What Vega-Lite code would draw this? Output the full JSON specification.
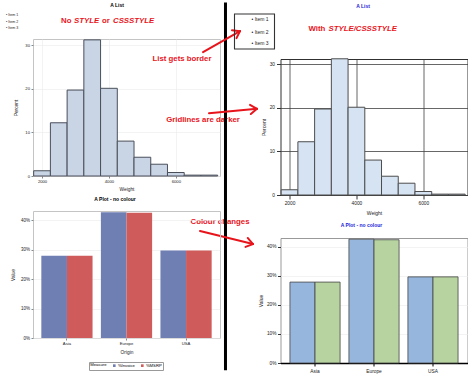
{
  "$schema": "https://vega.github.io/schema/vega-lite/v6.json",
  "padding": {"left": 6, "top": 0, "right": 0, "bottom": 0},
  "background": "white",
  "datasets": {
    "hist": [
      {"start": 1750, "end": 2250, "pct": 1.2},
      {"start": 2250, "end": 2750, "pct": 12.2},
      {"start": 2750, "end": 3250, "pct": 19.7},
      {"start": 3250, "end": 3750, "pct": 31.2},
      {"start": 3750, "end": 4250, "pct": 20.1},
      {"start": 4250, "end": 4750, "pct": 8.0},
      {"start": 4750, "end": 5250, "pct": 4.3},
      {"start": 5250, "end": 5750, "pct": 2.7},
      {"start": 5750, "end": 6250, "pct": 0.8},
      {"start": 6250, "end": 6750, "pct": 0.2},
      {"start": 6750, "end": 7250, "pct": 0.2}
    ],
    "bars": [
      {"Origin": "Asia", "Measure": "%Invoice", "Value": 0.279},
      {"Origin": "Asia", "Measure": "%MSRP", "Value": 0.279},
      {"Origin": "Europe", "Measure": "%Invoice", "Value": 0.427},
      {"Origin": "Europe", "Measure": "%MSRP", "Value": 0.425},
      {"Origin": "USA", "Measure": "%Invoice", "Value": 0.297},
      {"Origin": "USA", "Measure": "%MSRP", "Value": 0.297}
    ]
  },
  "config": {
    "font": "Liberation Sans",
    "view": {"stroke": null},
    "text": {"baseline": "middle", "font": "Liberation Sans"},
    "title": {"font": "Liberation Sans"},
    "axis": {
      "labelColor": "#222", "titleColor": "#222", "titleFontWeight": "normal",
      "domain": false, "tickColor": "#888", "labelFontSize": 4.2, "titleFontSize": 4.8,
      "tickSize": 2, "labelPadding": 1.5, "gridColor": "#ebebeb", "gridWidth": 0.6,
      "labelFont": "Liberation Sans", "titleFont": "Liberation Sans"
    },
    "axisX": {"labelAngle": 0},
    "legend": {"labelFont": "Liberation Sans", "titleFont": "Liberation Sans"}
  },
  "resolve": {"scale": {"color": "independent", "xOffset": "independent"}, "legend": {"color": "independent"}},
  "align": "each",
  "spacing": -25.5,
  "hconcat": [
    {
      "resolve": {"scale": {"color": "independent", "xOffset": "independent"}, "legend": {"color": "independent"}},
      "bounds": "flush",
      "align": "each",
      "spacing": 0,
      "vconcat": [
        {
          "width": 187, "height": 38,
          "data": {"values": [{}]},
          "layer": [
            {"mark": {"type": "text", "text": "A List", "fontSize": 5, "fontWeight": "bold", "color": "#000"},
             "encoding": {"x": {"datum": 84, "type": "quantitative", "scale": {"domain": [0, 187], "nice": false, "zero": false}, "axis": null},
                          "y": {"datum": 3.5, "type": "quantitative", "scale": {"domain": [0, 38], "nice": false, "zero": false, "reverse": true}, "axis": null}}},
            {"mark": {"type": "text", "text": "• Item 1", "fontSize": 3.6, "align": "left", "color": "#222"},
             "encoding": {"x": {"datum": -27, "axis": null}, "y": {"datum": 14, "axis": null}}},
            {"mark": {"type": "text", "text": "• Item 2", "fontSize": 3.6, "align": "left", "color": "#222"},
             "encoding": {"x": {"datum": -27, "axis": null}, "y": {"datum": 20.5, "axis": null}}},
            {"mark": {"type": "text", "text": "• Item 3", "fontSize": 3.6, "align": "left", "color": "#222"},
             "encoding": {"x": {"datum": -27, "axis": null}, "y": {"datum": 27, "axis": null}}},
            {"mark": {"type": "text", "text": "No", "fontSize": 7.8, "fontWeight": "bold", "align": "left", "color": "#e8141c"},
             "encoding": {"x": {"datum": 28, "axis": null}, "y": {"datum": 20, "axis": null}}},
            {"mark": {"type": "text", "text": "STYLE", "fontSize": 7.8, "fontWeight": "bold", "fontStyle": "italic", "align": "left", "color": "#e8141c"},
             "encoding": {"x": {"datum": 41, "axis": null}, "y": {"datum": 20, "axis": null}}},
            {"mark": {"type": "text", "text": "or", "fontSize": 7.8, "fontWeight": "bold", "align": "left", "color": "#e8141c"},
             "encoding": {"x": {"datum": 69, "axis": null}, "y": {"datum": 20, "axis": null}}},
            {"mark": {"type": "text", "text": "CSSSTYLE", "fontSize": 7.8, "fontWeight": "bold", "fontStyle": "italic", "align": "left", "color": "#e8141c"},
             "encoding": {"x": {"datum": 80, "axis": null}, "y": {"datum": 20, "axis": null}}}
          ]
        },
        {
          "width": 187, "height": 137,
          "view": {"stroke": "#c4c4c4"},
          "data": {"values": [{}]},
          "layer": [
            {
              "data": {"name": "hist"},
              "mark": {"type": "bar", "fill": "#c9d4e5", "stroke": "#4a4f5a", "strokeWidth": 1},
              "encoding": {
                "x": {"field": "start", "type": "quantitative", "scale": {"domain": [1730, 7320], "nice": false, "zero": false},
                      "axis": {"values": [2000, 4000, 6000], "format": "d", "grid": true, "title": "Weight", "titlePadding": 3}},
                "x2": {"field": "end"},
                "y": {"field": "pct", "type": "quantitative", "scale": {"domain": [0, 31.4], "nice": false},
                      "axis": {"values": [0, 10, 20, 30], "grid": true, "title": "Percent", "titlePadding": 6}},
                "y2": {"datum": 0}
              }
            },
            {"mark": {"type": "text", "text": "List gets border", "fontSize": 7.8, "fontWeight": "bold", "color": "#e8141c"},
             "encoding": {"x": {"datum": 6184}, "y": {"datum": 26.8}}},
            {"mark": {"type": "text", "text": "Gridlines are darker", "fontSize": 7.8, "fontWeight": "bold", "color": "#e8141c"},
             "encoding": {"x": {"datum": 6812}, "y": {"datum": 12.8}}},
            {"mark": {"type": "text", "text": "Colour changes", "fontSize": 7.8, "fontWeight": "bold", "color": "#e8141c"},
             "encoding": {"x": {"datum": 7320}, "y": {"datum": -10.5}}},
            {"mark": {"type": "rule", "color": "#000", "strokeWidth": 3},
             "encoding": {"x": {"datum": 7484}, "y": {"datum": 39.77}, "y2": {"datum": -44.5}}},
            {"mark": {"type": "rule", "color": "#e8141c", "strokeWidth": 2, "strokeCap": "round"},
             "encoding": {"x": {"datum": 6812}, "y": {"datum": 28.4}, "x2": {"datum": 7918}, "y2": {"datum": 33.2}}},
            {"mark": {"type": "rule", "color": "#e8141c", "strokeWidth": 2, "strokeCap": "round"},
             "encoding": {"x": {"datum": 7918}, "y": {"datum": 33.2}, "x2": {"datum": 7679}, "y2": {"datum": 33.4}}},
            {"mark": {"type": "rule", "color": "#e8141c", "strokeWidth": 2, "strokeCap": "round"},
             "encoding": {"x": {"datum": 7918}, "y": {"datum": 33.2}, "x2": {"datum": 7813}, "y2": {"datum": 31.6}}},
            {"mark": {"type": "rule", "color": "#e8141c", "strokeWidth": 2, "strokeCap": "round"},
             "encoding": {"x": {"datum": 6991}, "y": {"datum": 14.4}, "x2": {"datum": 8426}, "y2": {"datum": 15.4}}},
            {"mark": {"type": "rule", "color": "#e8141c", "strokeWidth": 2, "strokeCap": "round"},
             "encoding": {"x": {"datum": 8426}, "y": {"datum": 15.4}, "x2": {"datum": 8217}, "y2": {"datum": 16.3}}},
            {"mark": {"type": "rule", "color": "#e8141c", "strokeWidth": 2, "strokeCap": "round"},
             "encoding": {"x": {"datum": 8426}, "y": {"datum": 15.4}, "x2": {"datum": 8241}, "y2": {"datum": 14.2}}},
            {"mark": {"type": "rule", "color": "#e8141c", "strokeWidth": 2, "strokeCap": "round"},
             "encoding": {"x": {"datum": 6722}, "y": {"datum": -12.6}, "x2": {"datum": 8306}, "y2": {"datum": -15.6}}},
            {"mark": {"type": "rule", "color": "#e8141c", "strokeWidth": 2, "strokeCap": "round"},
             "encoding": {"x": {"datum": 8306}, "y": {"datum": -15.6}, "x2": {"datum": 8148}, "y2": {"datum": -14.2}}},
            {"mark": {"type": "rule", "color": "#e8141c", "strokeWidth": 2, "strokeCap": "round"},
             "encoding": {"x": {"datum": 8306}, "y": {"datum": -15.6}, "x2": {"datum": 8082}, "y2": {"datum": -16.25}}}
          ]
        },
        {
          "width": 187, "height": 35,
          "data": {"values": [{}]},
          "mark": {"type": "text", "text": "A Plot - no colour", "fontSize": 5, "fontWeight": "bold", "color": "#000"},
          "encoding": {
            "x": {"datum": 82, "type": "quantitative", "scale": {"domain": [0, 187], "nice": false, "zero": false}, "axis": null},
            "y": {"datum": 23, "type": "quantitative", "scale": {"domain": [0, 35], "nice": false, "zero": false, "reverse": true}, "axis": null}
          }
        },
        {
          "width": 187, "height": 127,
          "view": {"stroke": "#c4c4c4"},
          "data": {"name": "bars"},
          "mark": {"type": "bar"},
          "encoding": {
            "x": {"field": "Origin", "type": "nominal", "scale": {"paddingInner": 0.14, "paddingOuter": 0.14},
                  "axis": {"title": "Origin", "titlePadding": 3.4}},
            "xOffset": {"field": "Measure", "type": "nominal", "sort": ["%Invoice", "%MSRP"]},
            "y": {"field": "Value", "type": "quantitative", "scale": {"domain": [0, 0.431], "nice": false},
                  "axis": {"values": [0, 0.1, 0.2, 0.3, 0.4], "format": ".0%", "title": "Value", "titlePadding": 4.5, "labelFontSize": 4.5}},
            "color": {"field": "Measure", "type": "nominal", "scale": {"domain": ["%Invoice", "%MSRP"], "range": ["#6f7eb3", "#d05b5b"]},
                      "legend": {"orient": "none", "legendX": 56, "legendY": 151, "direction": "horizontal", "titleOrient": "left",
                                 "title": "Measure", "strokeColor": "#999", "fillColor": "white", "padding": 1.2,
                                 "symbolType": "square", "symbolSize": 7, "symbolStrokeWidth": 0, "labelFontSize": 4.2, "titleFontSize": 4.2,
                                 "titleFontWeight": "normal", "columnPadding": 5, "labelOffset": 1.5, "titlePadding": 5, "titleBaseline": "middle"}}
          }
        }
      ]
    },
    {
      "resolve": {"scale": {"color": "independent", "xOffset": "independent"}, "legend": {"color": "independent"}},
      "bounds": "flush",
      "align": "each",
      "spacing": 0,
      "vconcat": [
        {
          "width": 187, "height": 58,
          "data": {"values": [{}]},
          "layer": [
            {"mark": {"type": "rect", "fill": null, "stroke": "#333", "strokeWidth": 1.1},
             "encoding": {"x": {"datum": -46, "type": "quantitative", "scale": {"domain": [0, 187], "nice": false, "zero": false}, "axis": null},
                          "x2": {"datum": -6},
                          "y": {"datum": 13, "type": "quantitative", "scale": {"domain": [0, 58], "nice": false, "zero": false, "reverse": true}, "axis": null},
                          "y2": {"datum": 48}}},
            {"mark": {"type": "text", "text": "A List", "fontSize": 5, "fontWeight": "bold", "color": "#2424d8"},
             "encoding": {"x": {"datum": 82.5, "axis": null}, "y": {"datum": 4.7, "axis": null}}},
            {"mark": {"type": "text", "text": "• Item 1", "fontSize": 5, "align": "left", "color": "#222"},
             "encoding": {"x": {"datum": -29, "axis": null}, "y": {"datum": 18.3, "axis": null}}},
            {"mark": {"type": "text", "text": "• Item 2", "fontSize": 5, "align": "left", "color": "#222"},
             "encoding": {"x": {"datum": -29, "axis": null}, "y": {"datum": 30.7, "axis": null}}},
            {"mark": {"type": "text", "text": "• Item 3", "fontSize": 5, "align": "left", "color": "#222"},
             "encoding": {"x": {"datum": -29, "axis": null}, "y": {"datum": 41.7, "axis": null}}},
            {"mark": {"type": "text", "text": "With", "fontSize": 7.8, "fontWeight": "bold", "align": "left", "color": "#e8141c"},
             "encoding": {"x": {"datum": 28, "axis": null}, "y": {"datum": 28, "axis": null}}},
            {"mark": {"type": "text", "text": "STYLE/CSSSTYLE", "fontSize": 7.8, "fontWeight": "bold", "fontStyle": "italic", "align": "left", "color": "#e8141c"},
             "encoding": {"x": {"datum": 48, "axis": null}, "y": {"datum": 28, "axis": null}}}
          ]
        },
        {
          "width": 187, "height": 136,
          "view": {"stroke": "#303030"},
          "data": {"name": "hist"},
          "mark": {"type": "bar", "fill": "#d5e3f2", "stroke": "#4d4d4d", "strokeWidth": 1},
          "encoding": {
            "x": {"field": "start", "type": "quantitative", "scale": {"domain": [1730, 7320], "nice": false, "zero": false},
                  "axis": {"values": [2000, 4000, 6000], "format": "d", "grid": true, "gridColor": "#404040", "gridWidth": 0.8,
                           "tickSize": 4, "tickColor": "#333", "labelFontSize": 4.8, "titleFontSize": 5, "labelPadding": 1.5,
                           "titlePadding": 5, "title": "Weight"}},
            "x2": {"field": "end"},
            "y": {"field": "pct", "type": "quantitative", "scale": {"domain": [0, 31.15], "nice": false},
                  "axis": {"values": [0, 10, 20, 30], "grid": true, "gridColor": "#404040", "gridWidth": 0.8,
                           "tickSize": 4, "tickColor": "#333", "labelFontSize": 4.8, "titleFontSize": 5, "labelPadding": 2,
                           "titlePadding": 3, "title": "Percent"}},
            "y2": {"datum": 0}
          }
        },
        {
          "width": 187, "height": 43,
          "data": {"values": [{}]},
          "mark": {"type": "text", "text": "A Plot - no colour", "fontSize": 5, "fontWeight": "bold", "color": "#2424d8"},
          "encoding": {
            "x": {"datum": 81, "type": "quantitative", "scale": {"domain": [0, 187], "nice": false, "zero": false}, "axis": null},
            "y": {"datum": 30, "type": "quantitative", "scale": {"domain": [0, 43], "nice": false, "zero": false, "reverse": true}, "axis": null}
          }
        },
        {
          "width": 187, "height": 125,
          "view": {"stroke": "#999"},
          "data": {"name": "bars"},
          "mark": {"type": "bar", "stroke": "#454545", "strokeWidth": 0.8},
          "encoding": {
            "x": {"field": "Origin", "type": "nominal", "scale": {"paddingInner": 0.15, "paddingOuter": 0.16},
                  "axis": {"title": "Origin", "domain": true, "domainColor": "#000", "domainWidth": 1.5, "tickSize": 3, "tickColor": "#000",
                           "labelFontSize": 4.8, "labelPadding": 2.5}},
            "xOffset": {"field": "Measure", "type": "nominal", "sort": ["%Invoice", "%MSRP"]},
            "y": {"field": "Value", "type": "quantitative", "scale": {"domain": [0, 0.431], "nice": false},
                  "axis": {"values": [0, 0.1, 0.2, 0.3, 0.4], "format": ".0%", "title": "Value", "tickSize": 3, "tickColor": "#333",
                           "labelFontSize": 4.8, "titleFontSize": 5, "titlePadding": 3}},
            "color": {"field": "Measure", "type": "nominal", "scale": {"domain": ["%Invoice", "%MSRP"], "range": ["#97b6dd", "#b6d3a0"]}, "legend": null}
          }
        }
      ]
    }
  ]
}
